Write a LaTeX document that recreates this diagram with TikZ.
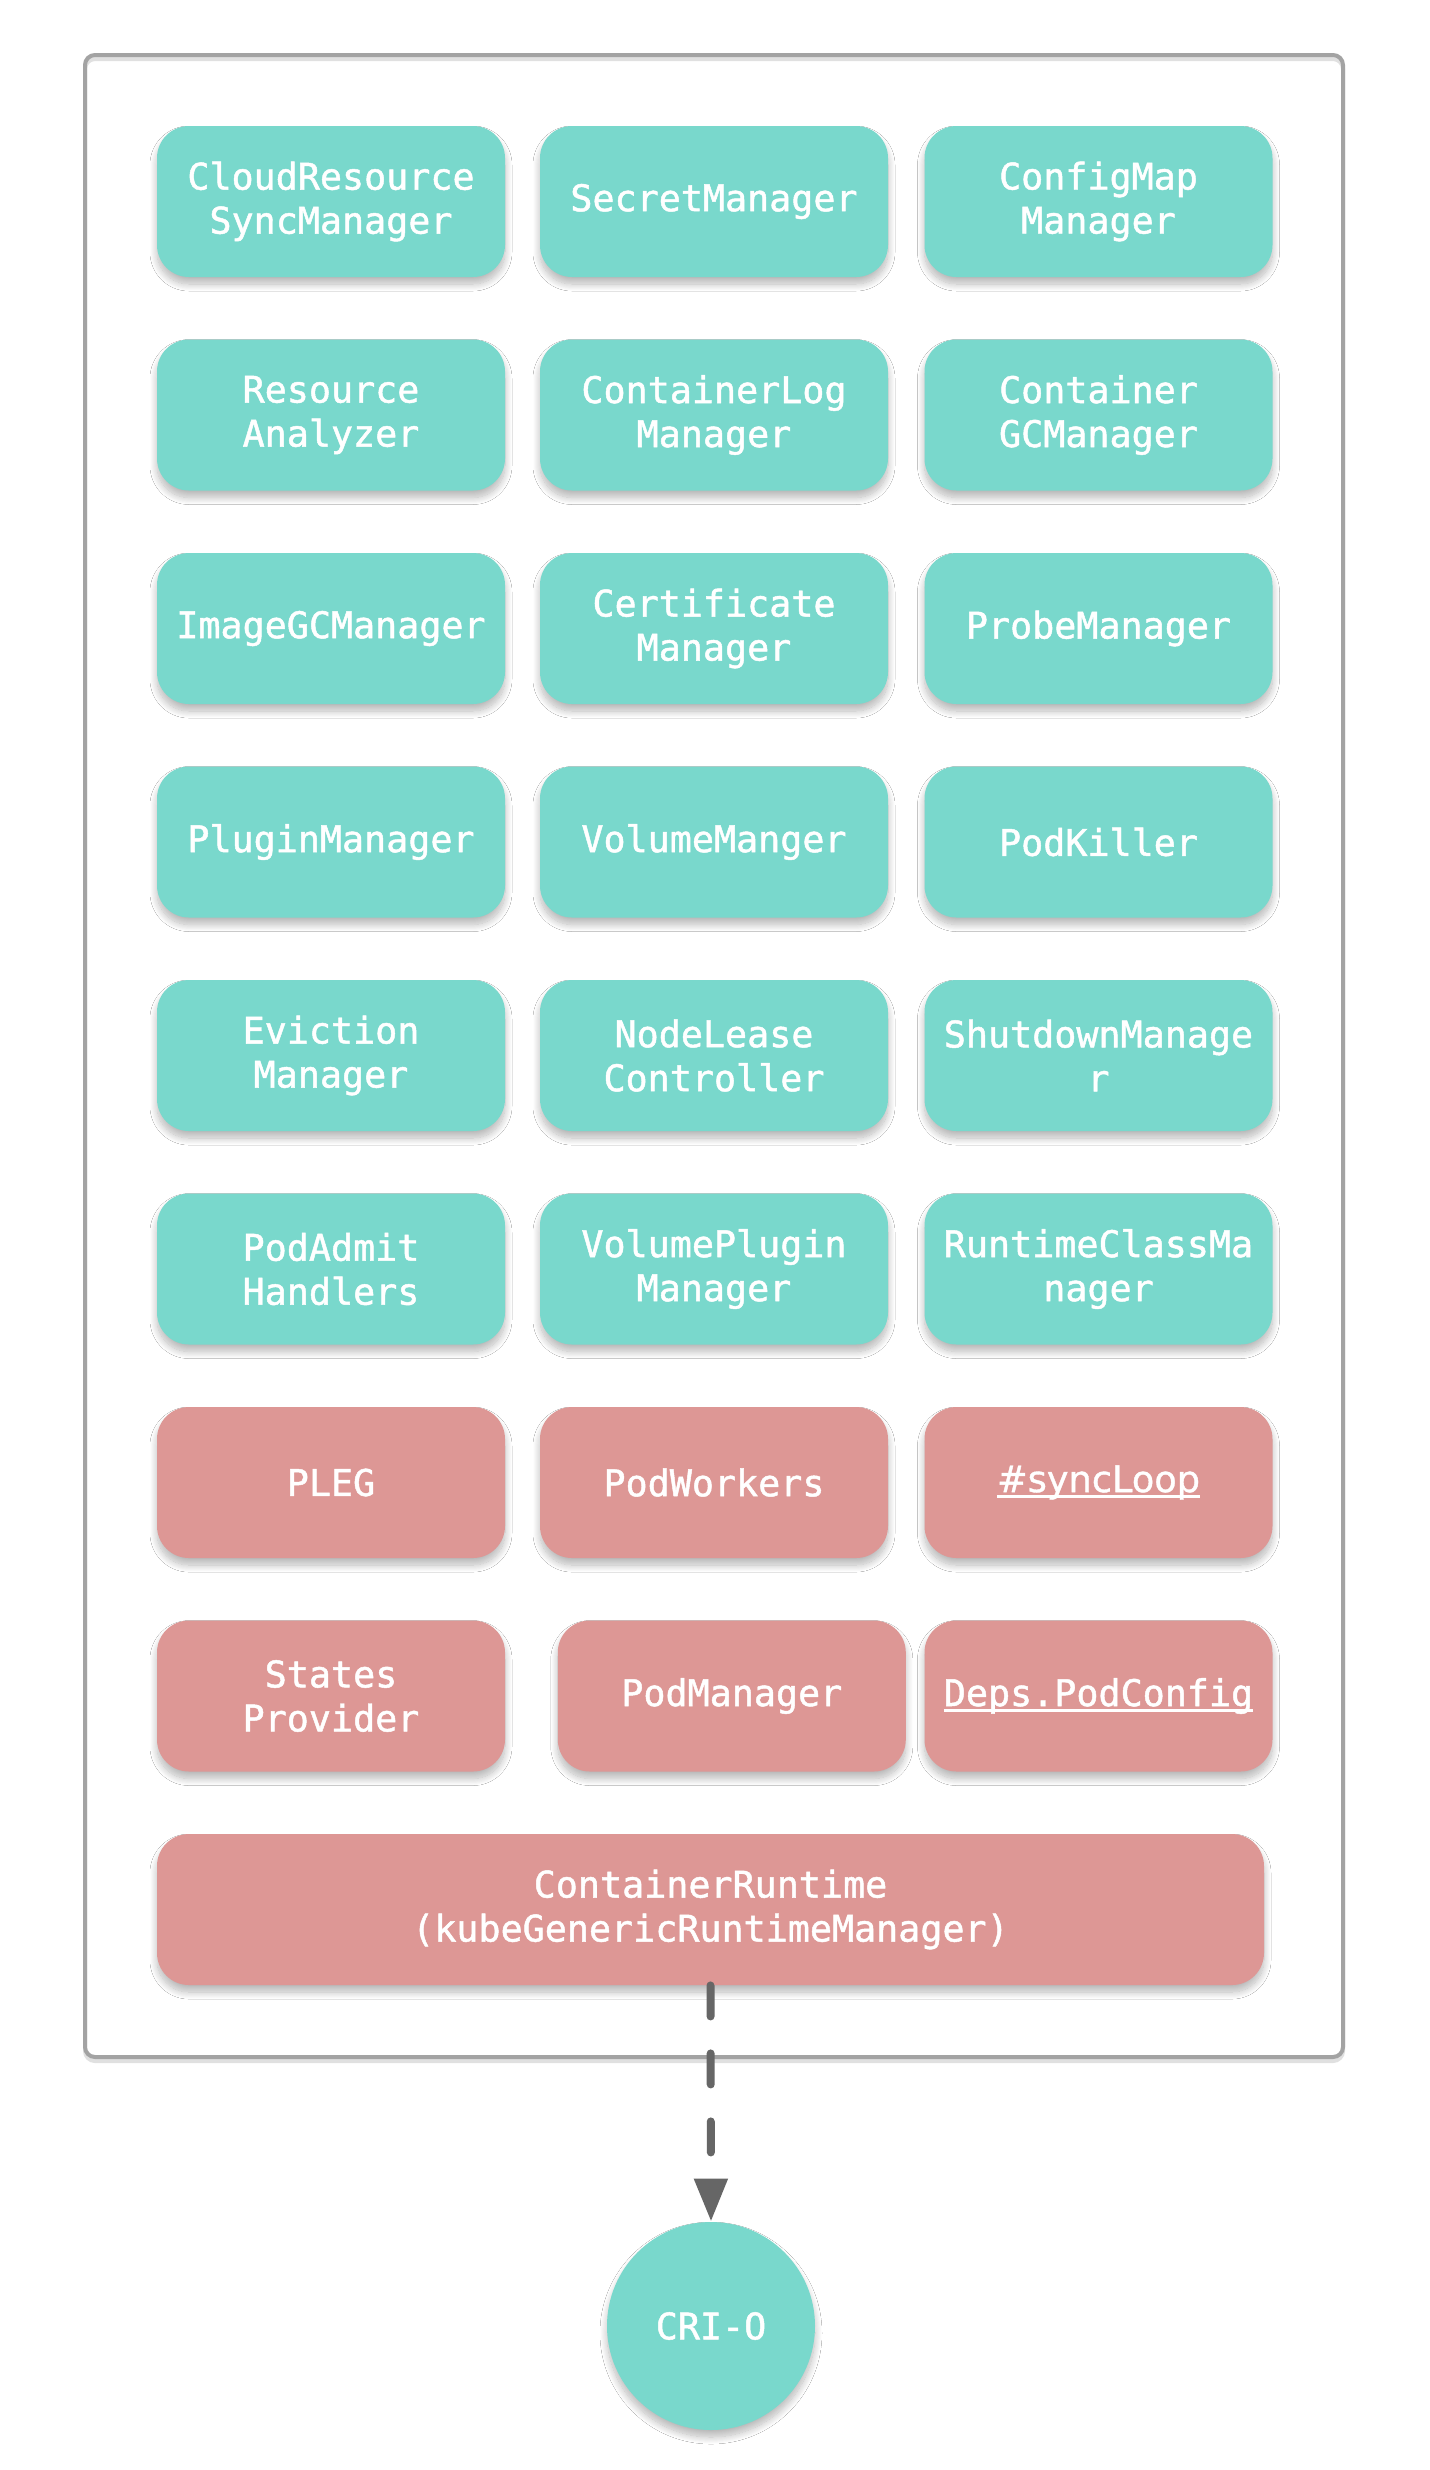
\documentclass[tikz,border=0pt]{standalone}
\usepackage{fontspec}
\setmonofont{DejaVu Sans Mono}[FakeBold=1.3]
\newfontfamily\dvsans{DejaVu Sans}[FakeBold=1.0]
\usetikzlibrary{arrows.meta,shadows.blur}
\definecolor{tealbox}{HTML}{79D8CC}
\definecolor{pinkbox}{HTML}{DD9795}
\definecolor{framegray}{HTML}{A3A3A3}
\definecolor{arrowgray}{HTML}{666666}
\newcommand\linkul[1]{\setbox0\hbox{#1}\rlap{\rule[-2.9pt]{\wd0}{1.3pt}}\box0}
\begin{document}
\begin{tikzpicture}[x=0.5pt,y=-0.5pt,
 softshadow/.style={blur shadow={shadow xshift=0pt, shadow yshift=-3.5pt, shadow blur radius=3.5pt, shadow opacity=28, shadow blur steps=14}},
 box/.style={rectangle, rounded corners=16pt, minimum width=174pt, minimum height=75.5pt,
   inner sep=0pt, text=white, align=center, font=\ttfamily\fontsize{18.35}{22}\selectfont, softshadow},
 tbox/.style={box, fill=tealbox},
 pbox/.style={box, fill=pinkbox},
 wide/.style={minimum width=553.5pt},
 frame/.style={rectangle, draw=framegray, line width=2pt, rounded corners=5pt, minimum width=629pt, minimum height=1001pt, inner sep=0pt},
 frameshade/.style={rectangle, draw=black!12, line width=2pt, rounded corners=5pt, minimum width=629pt, minimum height=1001pt, inner sep=0pt},
 crio/.style={circle, fill=tealbox, minimum size=104pt, inner sep=0pt, text=white, font=\ttfamily\fontsize{18.35}{22}\selectfont, softshadow},
 dep/.style={arrowgray, line width=4pt, line cap=round, dash pattern=on 15.5pt off 18.5pt,
   -{Triangle[length=21.5pt,width=16pt]}}
]
\useasboundingbox (0,0) rectangle (1430,2470);
\fill[white] (0,0) rectangle (1430,2470);
% frame
\node[frameshade] (frameshadow) at (714,1060) {};
\node[frame] (frame) at (714,1056) {};
% row 1
\node[tbox] (crsm) at (331,201.5) {CloudResource\\SyncManager};
\node[tbox] (secm) at (714,201.5) {SecretManager};
\node[tbox] (cmm) at (1098.5,201.5) {ConfigMap\\Manager};
% row 2
\node[tbox] (ra) at (331,415) {Resource\\Analyzer};
\node[tbox] (clm) at (714,415) {ContainerLog\\Manager};
\node[tbox] (cgc) at (1098.5,415) {Container\\GCManager};
% row 3
\node[tbox] (igc) at (331,628.5) {ImageGCManager};
\node[tbox] (cert) at (714,628.5) {Certificate\\Manager};
\node[tbox] (probe) at (1098.5,628.5) {ProbeManager};
% row 4
\node[tbox] (plug) at (331,842) {PluginManager};
\node[tbox] (vol) at (714,842) {VolumeManger};
\node[tbox] (pk) at (1098.5,842) {PodKiller};
% row 5
\node[tbox] (evict) at (331,1055.5) {Eviction\\Manager};
\node[tbox] (nl) at (714,1055.5) {NodeLease\\Controller};
\node[tbox] (sd) at (1098.5,1055.5) {ShutdownManage\\r};
% row 6
\node[tbox] (pah) at (331,1269) {PodAdmit\\Handlers};
\node[tbox] (vpm) at (714,1269) {VolumePlugin\\Manager};
\node[tbox] (rcm) at (1098.5,1269) {RuntimeClassMa\\nager};
% row 7
\node[pbox] (pleg) at (331,1482.5) {PLEG};
\node[pbox] (pw) at (714,1482.5) {PodWorkers};
\node[pbox] (sl) at (1098.5,1482.5) {\dvsans\linkul{\#syncLoop}};
% row 8
\node[pbox] (sp) at (331,1696) {States\\Provider};
\node[pbox] (pm) at (731.8,1696) {PodManager};
\node[pbox] (pc) at (1098.5,1696) {\linkul{Deps.PodConfig}};
% row 9
\node[pbox, wide] (rt) at (710.5,1909.5) {ContainerRuntime\\(kubeGenericRuntimeManager)};
% CRI-O
\node[crio] (cri) at (711,2326) {CRI-O};
\draw[dep] (rt.south) -- (cri.north);
\end{tikzpicture}
\end{document}
